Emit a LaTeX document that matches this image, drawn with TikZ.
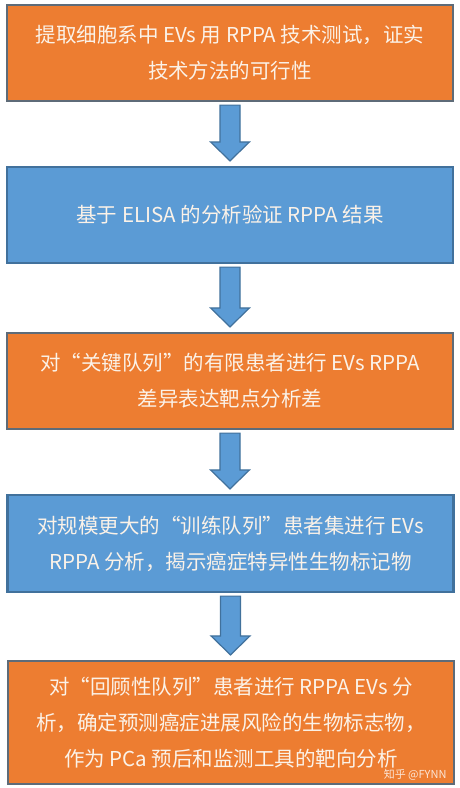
\documentclass[tikz,border=0pt]{standalone}
\usepackage{fontspec}
\setmainfont{Noto Sans CJK SC}
\usepackage{tikz}
\usetikzlibrary{calc}
\definecolor{boxorange}{HTML}{ED7D31}
\definecolor{boxblue}{HTML}{5B9BD5}
\definecolor{edgeblue}{HTML}{41719C}
\definecolor{edgegray}{HTML}{5E6B78}
\definecolor{boxtext}{HTML}{FBF2E8}
\tikzset{stagebox/.style = {draw, line width=2.2pt, minimum width=446pt,
                            minimum height=96pt, align=center, text=boxtext,
                            font=\fontsize{20.5}{36}\selectfont, inner sep=0pt},
         orangebox/.style = {stagebox, fill=boxorange, draw=edgegray},
         bluebox/.style = {stagebox, fill=boxblue, draw=edgeblue}}
\newcommand{\flowarrow}[2]{%
  \filldraw [fill=boxblue, draw=edgeblue, line width=1.2pt, line join=miter]
    let \p1 = (#1.south), \p2 = (#2.north) in
    (\x1-10pt, \y1-3pt) -- (\x1+10pt, \y1-3pt) -- (\x1+10pt, \y2+24pt)
    -- (\x1+19.5pt, \y2+24pt) -- (\x1, \y2+5pt) -- (\x1-19.5pt, \y2+24pt)
    -- (\x1-10pt, \y2+24pt) -- cycle;}

\begin{document}
\begin{tikzpicture}[x=1pt, y=-1pt]
    \useasboundingbox [fill=white] (0, 0) rectangle (459, 788);
    \node [orangebox] (feasibility) at (230, 53)
          {提取细胞系中 EVs 用 RPPA 技术测试，证实\\技术方法的可行性};
    \node [bluebox] (elisa) at (230, 215)
          {基于 ELISA 的分析验证 RPPA 结果};
    \node [orangebox] (keycohort) at (230, 381)
          {对“关键队列”的有限患者进行 EVs RPPA\\差异表达靶点分析差};
    \node [bluebox, minimum height=97pt] (training) at (230.5, 543.5)
          {对规模更大的“训练队列”患者集进行 EVs\\RPPA 分析，揭示癌症特异性生物标记物};
    \node [orangebox, minimum height=123pt] (retro) at (231, 722.5)
          {对“回顾性队列”患者进行 RPPA EVs 分\\析，确定预测癌症进展风险的生物标志物，\\作为 PCa 预后和监测工具的靶向分析};
    \flowarrow{feasibility}{elisa}
    \flowarrow{elisa}{keycohort}
    \flowarrow{keycohort}{training}
    \flowarrow{training}{retro}
    \node [text=white, opacity=0.8, font=\fontsize{11}{13}\selectfont,
           anchor=east] (mark) at (450, 775) {知乎 @FYNN};
\end{tikzpicture}
\end{document}
